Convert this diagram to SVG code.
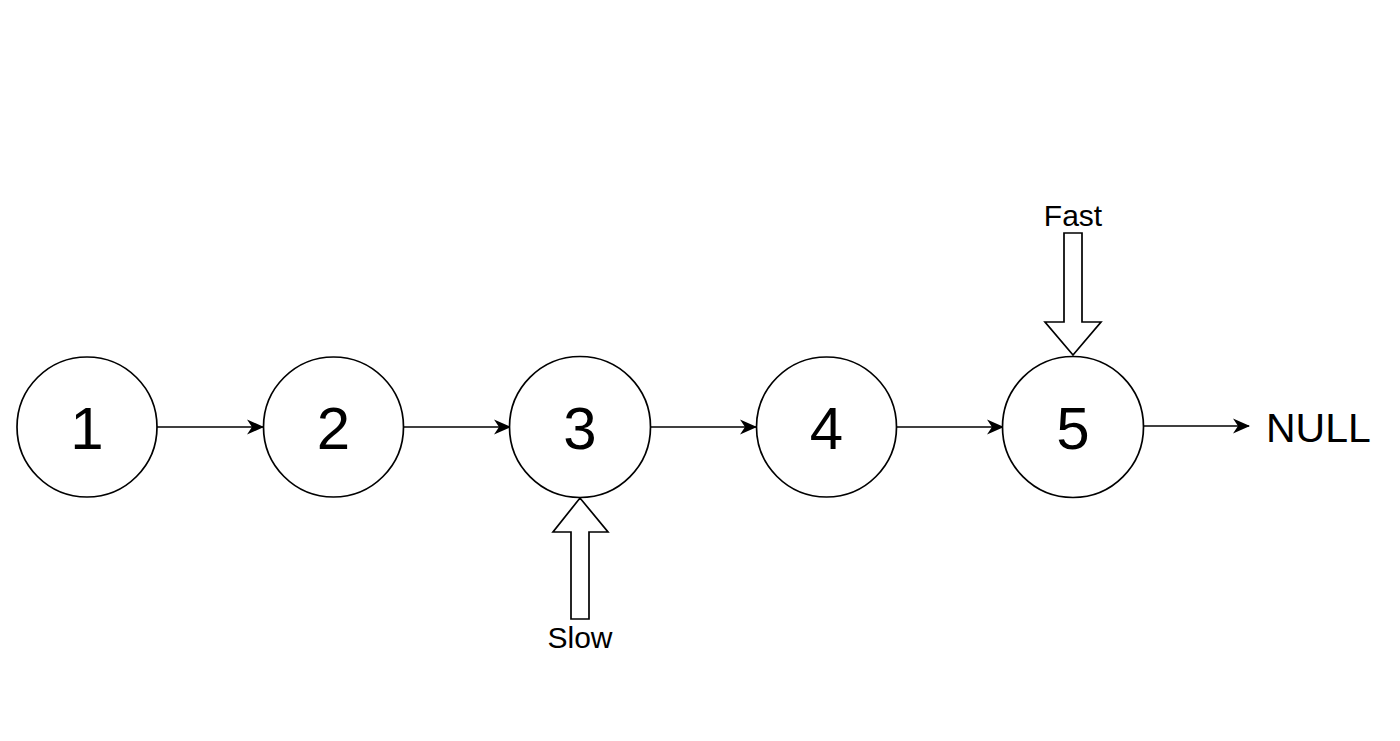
<svg xmlns="http://www.w3.org/2000/svg" width="1400" height="741" viewBox="0 0 1400 741">
<defs>
<marker id="arr" markerWidth="17" markerHeight="16" viewBox="0 0 17 16" refX="16" refY="8" orient="auto" markerUnits="userSpaceOnUse">
<path d="M0,0.5 L17,8 L0,15.5 L5,8 Z" fill="#000"/>
</marker>
</defs>
<style>
.node circle{fill:#fff;stroke:#000;stroke-width:1.7}
.node text{font-family:"Liberation Sans",Arial,sans-serif;font-size:60px;text-anchor:middle;fill:#000}
.conn line{stroke:#000;stroke-width:1.7;marker-end:url(#arr)}
.ptr path{fill:#fff;stroke:#000;stroke-width:1.7;stroke-linejoin:miter}
.lbl{font-family:"Liberation Sans",Arial,sans-serif;font-size:30px;text-anchor:middle;fill:#000}
</style>
<rect width="1400" height="741" fill="#fff"/>
<g id="connectors" class="conn">
<line x1="157" y1="427" x2="263" y2="427"/>
<line x1="404" y1="427" x2="510" y2="427"/>
<line x1="651" y1="427" x2="756" y2="427"/>
<line x1="897" y1="427" x2="1003" y2="427"/>
<line x1="1143" y1="426" x2="1249" y2="426"/>
</g>
<g id="node1" class="node"><circle cx="87" cy="427" r="70"/><text x="87" y="449">1</text></g>
<g id="node2" class="node"><circle cx="333.5" cy="427" r="70"/><text x="333.5" y="449">2</text></g>
<g id="node3" class="node"><circle cx="580" cy="427" r="70.5"/><text x="580" y="449">3</text></g>
<g id="node4" class="node"><circle cx="826.5" cy="427" r="70"/><text x="826.5" y="449">4</text></g>
<g id="node5" class="node"><circle cx="1073" cy="427" r="70.5"/><text x="1073" y="449">5</text></g>
<g id="null"><text x="1266" y="442" style="font-family:'Liberation Sans',Arial,sans-serif;font-size:41px;fill:#000">NULL</text></g>
<g id="fast" class="ptr">
<path d="M1064,233 L1082,233 L1082,322 L1101,322 L1073,355 L1045,322 L1064,322 Z"/>
<text class="lbl" x="1073" y="226">Fast</text>
</g>
<g id="slow" class="ptr">
<path d="M571,619 L589,619 L589,532 L608,532 L580,498 L553,532 L571,532 Z"/>
<text class="lbl" x="580" y="648">Slow</text>
</g>
</svg>
